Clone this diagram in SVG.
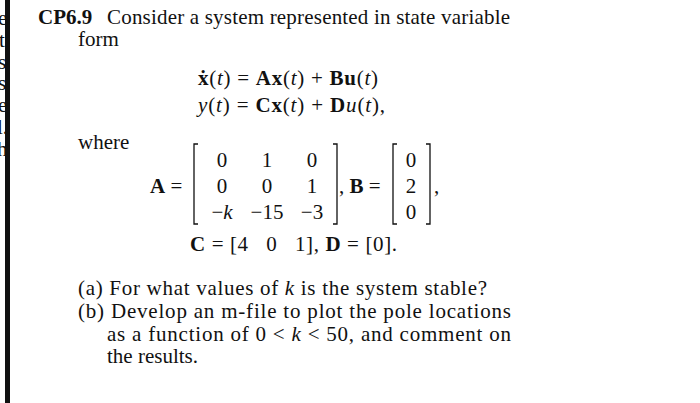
<svg xmlns="http://www.w3.org/2000/svg" width="700" height="403" viewBox="0 0 700 403">
<style>
text{font-family:"Liberation Serif","Times New Roman",serif;font-size:21px;fill:#111}
.b{font-weight:bold}
.i{font-style:italic}
.br{fill:none;stroke:#111;stroke-width:1.3}
</style>
<rect width="700" height="403" fill="#fff"/>
<rect x="5" y="0" width="5" height="403" fill="#111"/>
<g>
<text x="-2" y="25">e</text><text x="-1" y="47">t</text><text x="-2" y="69">s</text><text x="-2" y="90">s</text><text x="-2" y="112">e</text><text x="-3" y="134">l.</text><text x="-3" y="156">h</text>
</g>
<text x="38" y="24" class="b">CP6.9</text>
<text x="107" y="24" textLength="403" lengthAdjust="spacing">Consider a system represented in state variable</text>
<text x="78" y="46">form</text>
<text x="198" y="85" textLength="180" lengthAdjust="spacing"><tspan class="b">ẋ</tspan>(<tspan class="i">t</tspan>) = <tspan class="b">Ax</tspan>(<tspan class="i">t</tspan>) + <tspan class="b">Bu</tspan>(<tspan class="i">t</tspan>)</text>
<text x="198" y="112" textLength="187" lengthAdjust="spacing"><tspan class="i">y</tspan>(<tspan class="i">t</tspan>) = <tspan class="b">Cx</tspan>(<tspan class="i">t</tspan>) + <tspan class="b">D</tspan><tspan class="i">u</tspan>(<tspan class="i">t</tspan>),</text>
<text x="78" y="149">where</text>
<text x="150" y="193"><tspan class="b">A</tspan> =</text>
<path class="br" d="M198 144 h-4 v80 h4 M333 144 h4 v80 h-4"/>
<g text-anchor="middle">
<text x="222" y="167">0</text><text x="267" y="167">1</text><text x="312" y="167">0</text>
<text x="222" y="193">0</text><text x="267" y="193">0</text><text x="312" y="193">1</text>
<text x="222" y="219">−<tspan class="i">k</tspan></text><text x="267" y="219">−15</text><text x="312" y="219">−3</text>
<text x="411" y="167">0</text><text x="411" y="193">2</text><text x="411" y="219">0</text>
</g>
<text x="339" y="193">, <tspan class="b">B</tspan> =</text>
<path class="br" d="M397 144 h-4 v80 h4 M426 144 h4 v80 h-4"/>
<text x="434" y="193">,</text>
<text x="190" y="251" textLength="207" lengthAdjust="spacing" xml:space="preserve"><tspan class="b">C</tspan> = [4   0   1], <tspan class="b">D</tspan> = [0].</text>
<text x="78" y="295" textLength="409" lengthAdjust="spacing">(a)  For what values of <tspan class="i">k</tspan> is the system stable?</text>
<text x="78" y="318" textLength="433" lengthAdjust="spacing">(b)  Develop an m-file to plot the pole locations</text>
<text x="107" y="341" textLength="404" lengthAdjust="spacing">as a function of 0 &lt; <tspan class="i">k</tspan> &lt; 50, and comment on</text>
<text x="107" y="363">the results.</text>
</svg>
